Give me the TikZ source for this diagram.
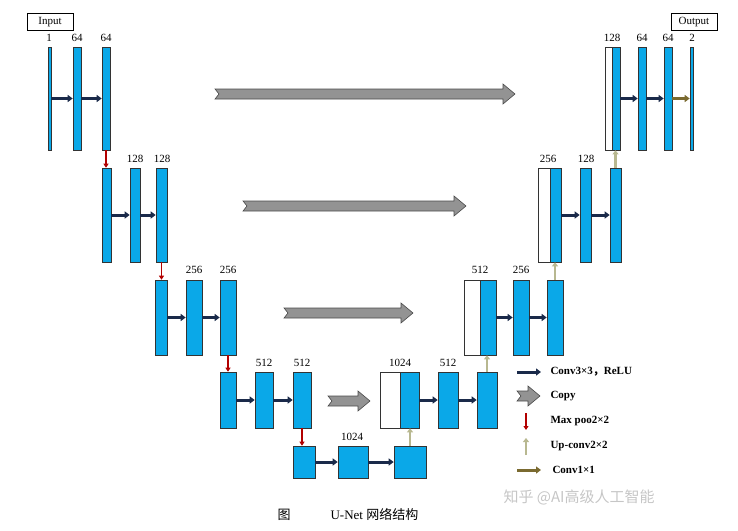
\documentclass[tikz,border=0pt]{standalone}
\usepackage{fontspec}
\setmainfont{Liberation Serif}
\newfontfamily\cjk{Noto Sans CJK SC}
\usetikzlibrary{fit,arrows.meta}
\definecolor{barblue}{HTML}{0AA8E8}
\definecolor{convc}{HTML}{1A2A4A}
\definecolor{upc}{HTML}{B8B890}
\definecolor{c11}{HTML}{7A6A30}
\tikzset{
 bar/.style={draw=black!80, fill=barblue, inner sep=0pt, line width=0.6pt},
 wbar/.style={draw=black!80, fill=white, inner sep=0pt, line width=0.6pt},
 lab/.style={font=\fontsize{11}{11}\selectfont},
 conv/.style={convc, line width=3pt, -{Triangle[length=5pt,width=7pt]}},
 pool/.style={red!70!black, line width=1.6pt, -{Triangle[length=4pt,width=5pt]}},
 upconv/.style={upc, line width=2.2pt, -{Triangle[length=4pt,width=6pt]}},
 conva/.style={c11, line width=3pt, -{Triangle[length=5pt,width=7pt]}},
 copyarr/.style={draw=black!70, fill=gray!85, line width=0.6pt},
 leg/.style={font=\bfseries\fontsize{11}{11}\selectfont, anchor=west},
 tbox/.style={draw, line width=0.9pt, font=\fontsize{11}{11}\selectfont, inner sep=2pt, minimum width=46pt, minimum height=17pt}
}
% copy arrow polygon: #1 x-start, #2 x-end, #3 y, #4 half shaft, #5 half head, #6 head length
\newcommand\copyarrow[6]{\path[copyarr] (#1,#3-#4) -- (#2-#6,#3-#4) -- (#2-#6,#3-#5) -- (#2,#3) -- (#2-#6,#3+#5) -- (#2-#6,#3+#4) -- (#1,#3+#4) -- (#1+4,#3) -- cycle;}
\begin{document}
\begin{tikzpicture}[x=1pt,y=-1pt]
\useasboundingbox (0,0) rectangle (738,530);
\node[bar, fit={(48,47) (51,150)}] (a1) {};
\node[bar, fit={(73,47) (81,150)}] (a2) {};
\node[bar, fit={(102,47) (110,150)}] (a3) {};
\node[bar, fit={(102,168) (111,262)}] (b1) {};
\node[bar, fit={(130,168) (140,262)}] (b2) {};
\node[bar, fit={(156,168) (167,262)}] (b3) {};
\node[bar, fit={(155,280) (167,355)}] (c1) {};
\node[bar, fit={(186,280) (202,355)}] (c2) {};
\node[bar, fit={(220,280) (236,355)}] (c3) {};
\node[bar, fit={(220,372) (236,428)}] (d1) {};
\node[bar, fit={(255,372) (273,428)}] (d2) {};
\node[bar, fit={(293,372) (311,428)}] (d3) {};
\node[bar, fit={(293,446) (315,478)}] (e1) {};
\node[bar, fit={(338,446) (368,478)}] (e2) {};
\node[bar, fit={(394,446) (426,478)}] (e3) {};
\node[wbar, fit={(380,372) (400,428)}] (f0) {};
\node[bar, fit={(400,372) (419,428)}] (f1) {};
\node[bar, fit={(438,372) (458,428)}] (f2) {};
\node[bar, fit={(477,372) (497,428)}] (f3) {};
\node[wbar, fit={(464,280) (480,355)}] (g0) {};
\node[bar, fit={(480,280) (496,355)}] (g1) {};
\node[bar, fit={(513,280) (529,355)}] (g2) {};
\node[bar, fit={(547,280) (563,355)}] (g3) {};
\node[wbar, fit={(538,168) (550,262)}] (h0) {};
\node[bar, fit={(550,168) (561,262)}] (h1) {};
\node[bar, fit={(580,168) (591,262)}] (h2) {};
\node[bar, fit={(610,168) (621,262)}] (h3) {};
\node[wbar, fit={(605,47) (612,150)}] (i0) {};
\node[bar, fit={(612,47) (620,150)}] (i1) {};
\node[bar, fit={(638,47) (646,150)}] (i2) {};
\node[bar, fit={(664,47) (672,150)}] (i3) {};
\node[bar, fit={(690,47) (693,150)}] (i4) {};
% labels
\node[lab] at (49,38) {1};
\node[lab] at (77,38) {64};
\node[lab] at (106,38) {64};
\node[lab] at (135,159) {128};
\node[lab] at (162,159) {128};
\node[lab] at (194,270) {256};
\node[lab] at (228,270) {256};
\node[lab] at (264,363) {512};
\node[lab] at (302,363) {512};
\node[lab] at (352,437) {1024};
\node[lab] at (400,363) {1024};
\node[lab] at (448,363) {512};
\node[lab] at (480,270) {512};
\node[lab] at (521,270) {256};
\node[lab] at (548,159) {256};
\node[lab] at (586,159) {128};
\node[lab] at (612,38) {128};
\node[lab] at (642,38) {64};
\node[lab] at (668,38) {64};
\node[lab] at (692,38) {2};
\node[tbox] (inp) at (50,22) {Input};
\node[tbox] (outp) at (694,22) {Output};
% conv arrows
\foreach \p/\q in {a1/a2,a2/a3,b1/b2,b2/b3,c1/c2,c2/c3,d1/d2,d2/d3,e1/e2,e2/e3,f1/f2,f2/f3,g1/g2,g2/g3,h1/h2,h2/h3,i1/i2,i2/i3}
  \draw[conv] (\p.east) -- (\q.west);
\draw[conva] (i3.east) -- (i4.west);
\foreach \p/\q in {a3/b1,b3/c1,c3/d1,d3/e1}
  \draw[pool] (\p.south) -- (\p.south|-\q.north);
\foreach \p/\q in {e3/f1,f3/g3,g3/h3,h3/i1}
  \draw[upconv] (\p.north) -- (\p.north|-\q.south);
% copy arrows
\copyarrow{215}{515}{94}{5}{10}{12}
\copyarrow{243}{466}{206}{5}{10}{12}
\copyarrow{284}{413}{313}{5}{10}{12}
\copyarrow{328}{370}{401}{5}{10}{12}
% legend
\coordinate (l1a) at (517,372); \coordinate (l1b) at (541,372);
\draw[conv] (l1a) -- (l1b);
\node[leg] at (547,372) {Conv3×3{\cjk ，}ReLU};
\copyarrow{517}{540}{396}{5}{10}{12}
\node[leg] at (547,396) {Copy};
\coordinate (l3a) at (526,413); \coordinate (l3b) at (526,430);
\draw[pool] (l3a) -- (l3b);
\node[leg] at (547,421) {Max poo2×2};
\coordinate (l4a) at (526,455); \coordinate (l4b) at (526,438);
\draw[upconv] (l4a) -- (l4b);
\node[leg] at (547,446) {Up-conv2×2};
\coordinate (l5a) at (517,470); \coordinate (l5b) at (541,470);
\draw[conva] (l5a) -- (l5b);
\node[leg] at (549,470) {Conv1×1};
\node[font=\fontsize{13}{13}\selectfont, anchor=west] (cap) at (274,514) {{\cjk 图}\hspace{40pt}U-Net {\cjk 网络结构}};
\node[font=\cjk\fontsize{15}{15}\selectfont, text=gray!45, anchor=west] (wm) at (500,497) {知乎 @AI高级人工智能};
\end{tikzpicture}
\end{document}
